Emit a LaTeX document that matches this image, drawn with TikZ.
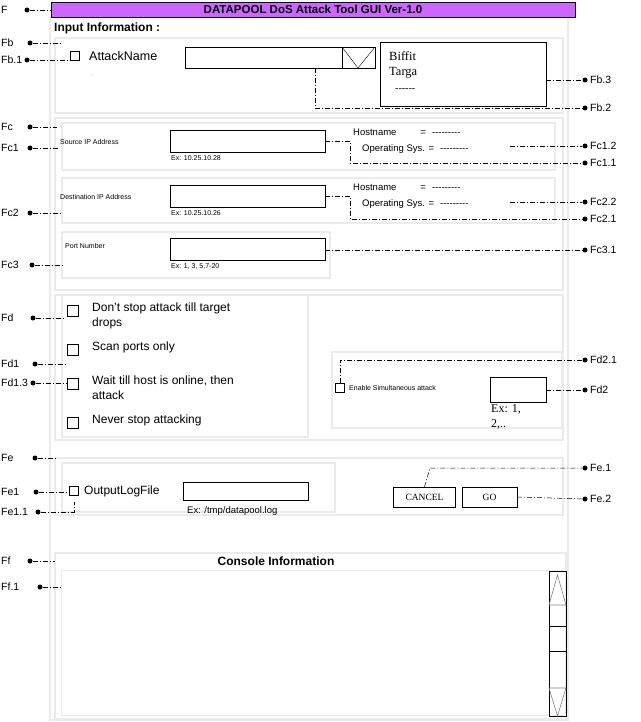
\documentclass[tikz,border=0pt]{standalone}
\usepackage{fontspec}
\setmainfont{Liberation Sans}
\newfontfamily\serifui{Liberation Serif}
\usetikzlibrary{positioning}
\definecolor{titlepurple}{HTML}{CC66FF}
\newcommand\dashrow[1]{\foreach \k in {1,...,#1}{-{}}}
\tikzset{panel/.style={draw=black!8,line width=1.5pt},
  field/.style={draw=black,line width=0.6pt},
  chk/.style={draw=black,line width=0.5pt,minimum size=9pt,inner sep=0pt},
  lead/.style={dash pattern=on 5pt off 2pt on 1pt off 2pt,line width=0.5pt},
  dot/.style={circle,fill=black,inner sep=0pt,minimum size=5pt},
  tag/.style={font=\fontsize{10.5}{12}\selectfont,inner sep=1pt},
  ui/.style={font=\fontsize{10.5}{12}\selectfont,inner sep=0pt,anchor=west},
  tiny/.style={font=\fontsize{7}{8}\selectfont,inner sep=0pt,anchor=west}}
\begin{document}
\begin{tikzpicture}[x=1pt,y=-1pt]
  \useasboundingbox (0,0) rectangle (640,722);
  % frame and title
  \draw[panel] (50,17) rectangle (568,720);
  \draw[fill=titlepurple,line width=0.8pt] (51,2) rectangle (575,17);
  \node[font=\bfseries\fontsize{11.5}{12}\selectfont] (title) at (313,9.5) {DATAPOOL DoS Attack Tool GUI Ver-1.0};
  \node[ui,font=\bfseries\fontsize{12}{12}\selectfont] (inp) at (54,28) {Input Information :};

  % Fb panel
  \draw[panel] (55,38) rectangle (563,113);
  \node[chk] (cbname) at (75,56) {};
  \node[ui,font=\fontsize{12.5}{14}\selectfont] (aname) at (89,56) {AttackName};
  \node[font=\tiny,text=gray] at (92,75) {:};
  \draw[field] (185,47) rectangle (342,68);
  \draw[field] (342,47) rectangle (375,68);
  \draw (342,47) -- (358,68) -- (375,47);
  \draw[field] (380,42) rectangle (546,106);
  \node[ui,font=\serifui\fontsize{12.5}{14}\selectfont] (biffit) at (389,56) {Biffit};
  \node[ui,font=\serifui\fontsize{12.5}{14}\selectfont] (targa) at (389,73) {Targa};
  \node[ui,font=\serifui\fontsize{10}{12}\selectfont] at (395,90) {\dashrow{6}};

  % Fc panels
  \draw[panel] (55,118) rectangle (563,290);
  \draw[panel] (62,123) rectangle (555,170);
  \draw[panel] (62,178) rectangle (555,223);
  \draw[panel] (62,232) rectangle (330,278);
  \foreach \y/\lbl/\ex in {130/Source IP Address/10.25.10.28, 185/Destination IP Address/10.25.10.26}{
    \draw[field] (170,\y) rectangle (325,\y+22);
    \node[tiny] at (60,\y+12) {\lbl};
    \node[tiny] at (171,\y+28) {Ex: \ex};
    \node[ui,font=\fontsize{9.5}{10}\selectfont] at (353,\y+2) {Hostname\hspace{24pt}=\hspace{6pt}\dashrow{9}};
    \node[ui,font=\fontsize{9.5}{10}\selectfont] at (362,\y+19) {Operating Sys. =\hspace{6pt}\dashrow{9}};
  }
  \draw[field] (170,238) rectangle (325,260);
  \node[tiny] (port) at (65,246) {Port Number};
  \node[tiny] at (171,267) {Ex: 1, 3, 5,7-20};

  % Fd panels
  \draw[panel] (55,295) rectangle (563,440);
  \draw[panel] (62,295) rectangle (308,437);
  \draw[panel] (332,352) rectangle (562,428);
  \foreach \y/\txt in {311/{Don't stop attack till target\\drops}, 350/{Scan ports only}, 384/{Wait till host is online, then\\attack}, 423/{Never stop attacking}}{
    \node[chk,minimum size=11pt] at (73,\y) {};
    \node[ui,font=\fontsize{12}{15}\selectfont,align=left,anchor=north west] at (92,\y-8) {\txt};
  }
  \node[chk] (cbsim) at (340,388) {};
  \node[tiny] (sim) at (349,388) {Enable Simultaneous attack};
  \draw[field] (490,377) rectangle (546,402);
  \node[ui,font=\serifui\fontsize{12}{15}\selectfont,align=left,anchor=north west] at (491,404) {Ex: 1,\\2,..};

  % Fe panels
  \draw[panel] (55,458) rectangle (563,515);
  \draw[panel] (62,463) rectangle (335,512);
  \node[chk] (cblog) at (74,491) {};
  \node[ui,font=\fontsize{12}{13}\selectfont] (logf) at (84,491) {OutputLogFile};
  \draw[field] (183,482) rectangle (308,500);
  \node[ui,font=\fontsize{9.5}{10}\selectfont] at (187,511) {Ex: /tmp/datapool.log};
  \node[draw,minimum width=62pt,minimum height=20pt,inner sep=0pt,font=\serifui\fontsize{9.5}{10}\selectfont] (cancel) at (424.5,497) {CANCEL};
  \node[draw,minimum width=55pt,minimum height=20pt,inner sep=0pt,font=\serifui\fontsize{9.5}{10}\selectfont] (go) at (489.5,497) {GO};

  % Ff panel
  \draw[panel] (55,553) rectangle (566,719);
  \node[font=\bfseries\fontsize{12}{12}\selectfont] (cons) at (276,561) {Console Information};
  \draw[draw=black!8,line width=1pt] (61,570) rectangle (566,715);
  \draw[line width=0.6pt] (549,571) rectangle (566,716);
  \draw[gray,line width=0.6pt] (549,605) -- (557.5,575) -- (566,605) -- cycle;
  \draw[line width=0.6pt] (549,626) rectangle (566,651);
  \draw[gray,line width=0.6pt] (549,688) -- (557.5,716) -- (566,688) -- cycle;

  % left tags
  \foreach \n/\t/\y/\dx/\ex in {F/F/10/27/50, Fb/Fb/43/30/60, Fbo/Fb.1/60/27/70, Fc/Fc/127/30/57, Fco/Fc1/148/30/58,
     Fct/Fc2/213/30/62, Fcth/Fc3/265/32/62, Fd/Fd/318/33/65, Fdo/Fd1/364/35/65, Fdt/Fd1.3/383/33/66,
     Fe/Fe/458/35/55, Feo/Fe1/492/36/70, Ff/Ff/561/30/55, Ffo/Ff.1/587/40/62}{
    \node[tag,anchor=west] (t\n) at (0,\y) {\t};
    \node[dot] (d\n) at (\dx,\y) {};
    \draw[lead] (d\n) -- (\ex,\y);
  }
  \node[tag,anchor=west] (tFeoo) at (0,512) {Fe1.1};
  \node[dot] (dFeoo) at (38,512) {};
  \draw[lead] (dFeoo) -- (74,512) -- (74,502);

  % right tags
  \foreach \n/\t/\y in {Fbth/Fb.3/80, Fbt/Fb.2/108, Fcot/Fc1.2/146, Fcoo/Fc1.1/163, Fctt/Fc2.2/202, Fcto/Fc2.1/219,
     Fctho/Fc3.1/250, Fdto/Fd2.1/360, Fdtt/Fd2/390, Feone/Fe.1/468, Fetw/Fe.2/499}{
    \node[dot] (d\n) at (585,\y) {};
    \node[tag,anchor=west] (t\n) at (589,\y) {\t};
  }
  \draw[lead] (546,80) -- (dFbth);
  \draw[lead] (315,68) -- (315,108) -- (dFbt);
  \draw[lead] (510,146) -- (dFcot);
  \draw[lead] (325,141) -- (350,141) -- (350,163) -- (dFcoo);
  \draw[lead] (510,202) -- (dFctt);
  \draw[lead] (325,196) -- (350,196) -- (350,219) -- (dFcto);
  \draw[lead] (325,250) -- (dFctho);
  \draw[lead] (cbsim.north) -- (340,360) -- (dFdto);
  \draw[lead] (546,390) -- (dFdtt);
  \draw[lead] (cancel.north) -- (430,468) -- (dFeone);
  \draw[lead] (go.east) -- (dFetw);
\end{tikzpicture}
\end{document}
